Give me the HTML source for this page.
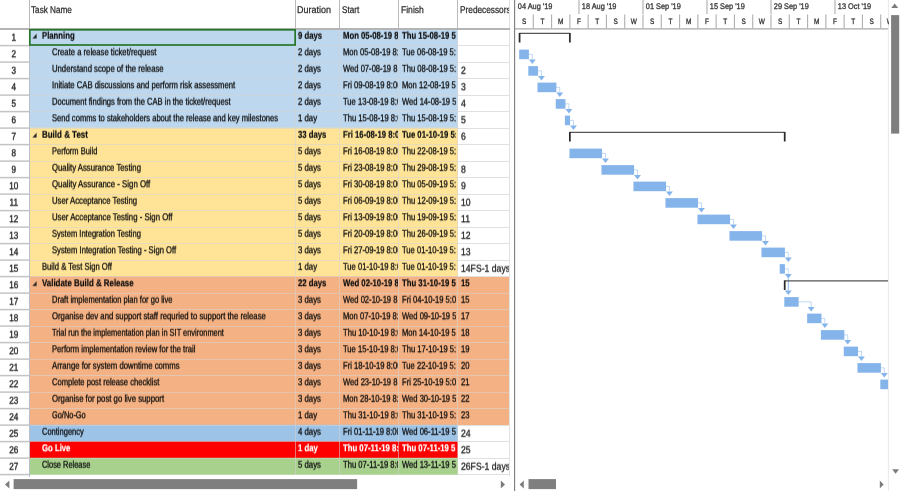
<!DOCTYPE html>
<html lang="en">
<head>
<meta charset="utf-8">
<title>Release Plan</title>
<style>
html,body{margin:0;padding:0;background:#fff;}
body{text-rendering:geometricPrecision;width:900px;height:491px;overflow:hidden;position:relative;font-family:"Liberation Sans",sans-serif;}
#app{position:absolute;left:0;top:0;width:900px;height:491px;overflow:hidden;background:#fff;}
.abs{position:absolute;}
.cell{position:absolute;overflow:hidden;white-space:nowrap;}
.t{position:absolute;white-space:pre;transform-origin:0 0;line-height:1;display:block;}
.b{font-weight:bold;}
.row{position:absolute;left:0;width:510px;height:16.5px;will-change:transform;transform-origin:0 0;}
.t{-webkit-text-stroke:0.3px currentColor;}
.t.b{-webkit-text-stroke:0.2px currentColor;}
.t.p{-webkit-text-stroke:0.3px currentColor;}
.t.h{-webkit-text-stroke:0.25px currentColor;}
.hl{position:absolute;height:1px;}
.vl{position:absolute;width:1px;}
svg{position:absolute;left:0;top:0;}

</style>
</head>
<body>
<div id="app">
<div class="hdr">
<div class="cell" style="left:29.50px;top:0.00px;width:266.00px;height:29.00px;"><div class="cell" style="left:0;top:0;width:264.40px;height:29.00px"><span class="t h" style="left:1.60px;top:6.00px;font-size:9.8px;color:#2b2b2b;transform:scaleX(0.835)">Task Name</span></div></div>
<div class="cell" style="left:295.50px;top:0.00px;width:44.00px;height:29.00px;"><div class="cell" style="left:0;top:0;width:42.40px;height:29.00px"><span class="t h" style="left:1.60px;top:6.00px;font-size:9.8px;color:#2b2b2b;transform:scaleX(0.920)">Duration</span></div></div>
<div class="cell" style="left:339.50px;top:0.00px;width:59.00px;height:29.00px;"><div class="cell" style="left:0;top:0;width:57.40px;height:29.00px"><span class="t h" style="left:2.20px;top:6.00px;font-size:9.8px;color:#2b2b2b;transform:scaleX(0.835)">Start</span></div></div>
<div class="cell" style="left:398.50px;top:0.00px;width:59.00px;height:29.00px;"><div class="cell" style="left:0;top:0;width:57.40px;height:29.00px"><span class="t h" style="left:2.30px;top:6.00px;font-size:9.8px;color:#2b2b2b;transform:scaleX(0.873)">Finish</span></div></div>
<div class="cell" style="left:457.50px;top:0.00px;width:52.00px;height:29.00px;"><div class="cell" style="left:0;top:0;width:52.00px;height:29.00px"><span class="t h" style="left:2.20px;top:6.00px;font-size:9.8px;color:#2b2b2b;transform:scaleX(0.845)">Predecessors</span></div></div>
</div>
<div class="row" style="top:28px;transform:translateY(0.75px) scale(0.9999)">
<div class="cell" style="left:0.00px;top:0.00px;width:29.50px;height:16.50px;"><div class="cell" style="left:0;top:0;width:27.90px;height:16.50px"><span class="t" style="left:0px;top:5.37px;width:34.6px;text-align:center;font-size:10.2px;color:#262626;-webkit-text-stroke:0.4px #262626;transform:scaleX(0.80)">1</span></div></div>
<div class="cell" style="left:29.50px;top:0.00px;width:266.00px;height:16.50px;background:#bdd7ee;"><div class="cell" style="left:0;top:0;width:264.40px;height:16.50px"><svg width="12" height="17" style="left:2.2px;top:0"><path d="M0.4 9.8 L4.6 9.8 L4.6 5.0 Z" fill="#262626"/></svg><span class="t b" style="left:12.80px;top:2.82px;font-size:9.9px;color:#0c0c0c;transform:scaleX(0.784)">Planning</span></div></div>
<div class="cell" style="left:295.50px;top:0.00px;width:44.00px;height:16.50px;background:#bdd7ee;"><div class="cell" style="left:0;top:0;width:42.40px;height:16.50px"><span class="t b" style="left:2.60px;top:2.82px;font-size:9.9px;color:#0c0c0c;transform:scaleX(0.784)">9 days</span></div></div>
<div class="cell" style="left:339.50px;top:0.00px;width:59.00px;height:16.50px;background:#bdd7ee;"><div class="cell" style="left:0;top:0;width:58.00px;height:16.50px"><span class="t b" style="left:3.00px;top:2.82px;font-size:9.9px;color:#0c0c0c;transform:scaleX(0.784)">Mon 05-08-19 8:00 AM</span></div></div>
<div class="cell" style="left:398.50px;top:0.00px;width:59.00px;height:16.50px;background:#bdd7ee;"><div class="cell" style="left:0;top:0;width:57.70px;height:16.50px"><span class="t b" style="left:3.20px;top:2.82px;font-size:9.9px;color:#0c0c0c;transform:scaleX(0.784)">Thu 15-08-19 5:00 PM</span></div></div>
<div class="cell" style="left:457.50px;top:0.00px;width:52.00px;height:16.50px;"><div class="cell" style="left:0;top:0;width:51.70px;height:16.50px"><span class="t p" style="left:3.70px;top:5.48px;font-size:10.3px;color:#1e1e1e;transform:scaleX(0.840)"></span></div></div>
</div>
<div class="row" style="top:45px;transform:translateY(0.25px) scale(0.9999)">
<div class="cell" style="left:0.00px;top:0.00px;width:29.50px;height:16.50px;"><div class="cell" style="left:0;top:0;width:27.90px;height:16.50px"><span class="t" style="left:0px;top:5.37px;width:34.6px;text-align:center;font-size:10.2px;color:#262626;-webkit-text-stroke:0.4px #262626;transform:scaleX(0.80)">2</span></div></div>
<div class="cell" style="left:29.50px;top:0.00px;width:266.00px;height:16.50px;background:#bdd7ee;"><div class="cell" style="left:0;top:0;width:264.40px;height:16.50px"><span class="t" style="left:22.50px;top:2.82px;font-size:9.9px;color:#0c0c0c;transform:scaleX(0.777)">Create a release ticket/request</span></div></div>
<div class="cell" style="left:295.50px;top:0.00px;width:44.00px;height:16.50px;background:#bdd7ee;"><div class="cell" style="left:0;top:0;width:42.40px;height:16.50px"><span class="t" style="left:2.60px;top:2.82px;font-size:9.9px;color:#0c0c0c;transform:scaleX(0.790)">2 days</span></div></div>
<div class="cell" style="left:339.50px;top:0.00px;width:59.00px;height:16.50px;background:#bdd7ee;"><div class="cell" style="left:0;top:0;width:58.00px;height:16.50px"><span class="t" style="left:3.00px;top:2.82px;font-size:9.9px;color:#0c0c0c;transform:scaleX(0.771)">Mon 05-08-19 8:00 AM</span></div></div>
<div class="cell" style="left:398.50px;top:0.00px;width:59.00px;height:16.50px;background:#bdd7ee;"><div class="cell" style="left:0;top:0;width:57.70px;height:16.50px"><span class="t" style="left:3.20px;top:2.82px;font-size:9.9px;color:#0c0c0c;transform:scaleX(0.771)">Tue 06-08-19 5:00 PM</span></div></div>
<div class="cell" style="left:457.50px;top:0.00px;width:52.00px;height:16.50px;"><div class="cell" style="left:0;top:0;width:51.70px;height:16.50px"><span class="t p" style="left:3.70px;top:5.48px;font-size:10.3px;color:#1e1e1e;transform:scaleX(0.840)"></span></div></div>
</div>
<div class="row" style="top:61px;transform:translateY(0.75px) scale(0.9999)">
<div class="cell" style="left:0.00px;top:0.00px;width:29.50px;height:16.50px;"><div class="cell" style="left:0;top:0;width:27.90px;height:16.50px"><span class="t" style="left:0px;top:5.37px;width:34.6px;text-align:center;font-size:10.2px;color:#262626;-webkit-text-stroke:0.4px #262626;transform:scaleX(0.80)">3</span></div></div>
<div class="cell" style="left:29.50px;top:0.00px;width:266.00px;height:16.50px;background:#bdd7ee;"><div class="cell" style="left:0;top:0;width:264.40px;height:16.50px"><span class="t" style="left:22.50px;top:2.82px;font-size:9.9px;color:#0c0c0c;transform:scaleX(0.782)">Understand scope of the release</span></div></div>
<div class="cell" style="left:295.50px;top:0.00px;width:44.00px;height:16.50px;background:#bdd7ee;"><div class="cell" style="left:0;top:0;width:42.40px;height:16.50px"><span class="t" style="left:2.60px;top:2.82px;font-size:9.9px;color:#0c0c0c;transform:scaleX(0.790)">2 days</span></div></div>
<div class="cell" style="left:339.50px;top:0.00px;width:59.00px;height:16.50px;background:#bdd7ee;"><div class="cell" style="left:0;top:0;width:58.00px;height:16.50px"><span class="t" style="left:3.00px;top:2.82px;font-size:9.9px;color:#0c0c0c;transform:scaleX(0.771)">Wed 07-08-19 8:00 AM</span></div></div>
<div class="cell" style="left:398.50px;top:0.00px;width:59.00px;height:16.50px;background:#bdd7ee;"><div class="cell" style="left:0;top:0;width:57.70px;height:16.50px"><span class="t" style="left:3.20px;top:2.82px;font-size:9.9px;color:#0c0c0c;transform:scaleX(0.771)">Thu 08-08-19 5:00 PM</span></div></div>
<div class="cell" style="left:457.50px;top:0.00px;width:52.00px;height:16.50px;"><div class="cell" style="left:0;top:0;width:51.70px;height:16.50px"><span class="t p" style="left:3.70px;top:5.48px;font-size:10.3px;color:#1e1e1e;transform:scaleX(0.840)">2</span></div></div>
</div>
<div class="row" style="top:78px;transform:translateY(0.25px) scale(0.9999)">
<div class="cell" style="left:0.00px;top:0.00px;width:29.50px;height:16.50px;"><div class="cell" style="left:0;top:0;width:27.90px;height:16.50px"><span class="t" style="left:0px;top:5.37px;width:34.6px;text-align:center;font-size:10.2px;color:#262626;-webkit-text-stroke:0.4px #262626;transform:scaleX(0.80)">4</span></div></div>
<div class="cell" style="left:29.50px;top:0.00px;width:266.00px;height:16.50px;background:#bdd7ee;"><div class="cell" style="left:0;top:0;width:264.40px;height:16.50px"><span class="t" style="left:22.50px;top:2.82px;font-size:9.9px;color:#0c0c0c;transform:scaleX(0.778)">Initiate CAB discussions and perform risk assessment</span></div></div>
<div class="cell" style="left:295.50px;top:0.00px;width:44.00px;height:16.50px;background:#bdd7ee;"><div class="cell" style="left:0;top:0;width:42.40px;height:16.50px"><span class="t" style="left:2.60px;top:2.82px;font-size:9.9px;color:#0c0c0c;transform:scaleX(0.790)">2 days</span></div></div>
<div class="cell" style="left:339.50px;top:0.00px;width:59.00px;height:16.50px;background:#bdd7ee;"><div class="cell" style="left:0;top:0;width:58.00px;height:16.50px"><span class="t" style="left:3.00px;top:2.82px;font-size:9.9px;color:#0c0c0c;transform:scaleX(0.771)">Fri 09-08-19 8:00 AM</span></div></div>
<div class="cell" style="left:398.50px;top:0.00px;width:59.00px;height:16.50px;background:#bdd7ee;"><div class="cell" style="left:0;top:0;width:57.70px;height:16.50px"><span class="t" style="left:3.20px;top:2.82px;font-size:9.9px;color:#0c0c0c;transform:scaleX(0.771)">Mon 12-08-19 5:00 PM</span></div></div>
<div class="cell" style="left:457.50px;top:0.00px;width:52.00px;height:16.50px;"><div class="cell" style="left:0;top:0;width:51.70px;height:16.50px"><span class="t p" style="left:3.70px;top:5.48px;font-size:10.3px;color:#1e1e1e;transform:scaleX(0.840)">3</span></div></div>
</div>
<div class="row" style="top:94px;transform:translateY(0.75px) scale(0.9999)">
<div class="cell" style="left:0.00px;top:0.00px;width:29.50px;height:16.50px;"><div class="cell" style="left:0;top:0;width:27.90px;height:16.50px"><span class="t" style="left:0px;top:5.37px;width:34.6px;text-align:center;font-size:10.2px;color:#262626;-webkit-text-stroke:0.4px #262626;transform:scaleX(0.80)">5</span></div></div>
<div class="cell" style="left:29.50px;top:0.00px;width:266.00px;height:16.50px;background:#bdd7ee;"><div class="cell" style="left:0;top:0;width:264.40px;height:16.50px"><span class="t" style="left:22.50px;top:2.82px;font-size:9.9px;color:#0c0c0c;transform:scaleX(0.769)">Document findings from the CAB in the ticket/request</span></div></div>
<div class="cell" style="left:295.50px;top:0.00px;width:44.00px;height:16.50px;background:#bdd7ee;"><div class="cell" style="left:0;top:0;width:42.40px;height:16.50px"><span class="t" style="left:2.60px;top:2.82px;font-size:9.9px;color:#0c0c0c;transform:scaleX(0.790)">2 days</span></div></div>
<div class="cell" style="left:339.50px;top:0.00px;width:59.00px;height:16.50px;background:#bdd7ee;"><div class="cell" style="left:0;top:0;width:58.00px;height:16.50px"><span class="t" style="left:3.00px;top:2.82px;font-size:9.9px;color:#0c0c0c;transform:scaleX(0.771)">Tue 13-08-19 8:00 AM</span></div></div>
<div class="cell" style="left:398.50px;top:0.00px;width:59.00px;height:16.50px;background:#bdd7ee;"><div class="cell" style="left:0;top:0;width:57.70px;height:16.50px"><span class="t" style="left:3.20px;top:2.82px;font-size:9.9px;color:#0c0c0c;transform:scaleX(0.771)">Wed 14-08-19 5:00 PM</span></div></div>
<div class="cell" style="left:457.50px;top:0.00px;width:52.00px;height:16.50px;"><div class="cell" style="left:0;top:0;width:51.70px;height:16.50px"><span class="t p" style="left:3.70px;top:5.48px;font-size:10.3px;color:#1e1e1e;transform:scaleX(0.840)">4</span></div></div>
</div>
<div class="row" style="top:111px;transform:translateY(0.25px) scale(0.9999)">
<div class="cell" style="left:0.00px;top:0.00px;width:29.50px;height:16.50px;"><div class="cell" style="left:0;top:0;width:27.90px;height:16.50px"><span class="t" style="left:0px;top:5.37px;width:34.6px;text-align:center;font-size:10.2px;color:#262626;-webkit-text-stroke:0.4px #262626;transform:scaleX(0.80)">6</span></div></div>
<div class="cell" style="left:29.50px;top:0.00px;width:266.00px;height:16.50px;background:#bdd7ee;"><div class="cell" style="left:0;top:0;width:264.40px;height:16.50px"><span class="t" style="left:22.50px;top:2.82px;font-size:9.9px;color:#0c0c0c;transform:scaleX(0.770)">Send comms to stakeholders about the release and key milestones</span></div></div>
<div class="cell" style="left:295.50px;top:0.00px;width:44.00px;height:16.50px;background:#bdd7ee;"><div class="cell" style="left:0;top:0;width:42.40px;height:16.50px"><span class="t" style="left:2.60px;top:2.82px;font-size:9.9px;color:#0c0c0c;transform:scaleX(0.790)">1 day</span></div></div>
<div class="cell" style="left:339.50px;top:0.00px;width:59.00px;height:16.50px;background:#bdd7ee;"><div class="cell" style="left:0;top:0;width:58.00px;height:16.50px"><span class="t" style="left:3.00px;top:2.82px;font-size:9.9px;color:#0c0c0c;transform:scaleX(0.771)">Thu 15-08-19 8:00 AM</span></div></div>
<div class="cell" style="left:398.50px;top:0.00px;width:59.00px;height:16.50px;background:#bdd7ee;"><div class="cell" style="left:0;top:0;width:57.70px;height:16.50px"><span class="t" style="left:3.20px;top:2.82px;font-size:9.9px;color:#0c0c0c;transform:scaleX(0.771)">Thu 15-08-19 5:00 PM</span></div></div>
<div class="cell" style="left:457.50px;top:0.00px;width:52.00px;height:16.50px;"><div class="cell" style="left:0;top:0;width:51.70px;height:16.50px"><span class="t p" style="left:3.70px;top:5.48px;font-size:10.3px;color:#1e1e1e;transform:scaleX(0.840)">5</span></div></div>
</div>
<div class="row" style="top:127px;transform:translateY(0.75px) scale(0.9999)">
<div class="cell" style="left:0.00px;top:0.00px;width:29.50px;height:16.50px;"><div class="cell" style="left:0;top:0;width:27.90px;height:16.50px"><span class="t" style="left:0px;top:5.37px;width:34.6px;text-align:center;font-size:10.2px;color:#262626;-webkit-text-stroke:0.4px #262626;transform:scaleX(0.80)">7</span></div></div>
<div class="cell" style="left:29.50px;top:0.00px;width:266.00px;height:16.50px;background:#ffe498;"><div class="cell" style="left:0;top:0;width:264.40px;height:16.50px"><svg width="12" height="17" style="left:2.2px;top:0"><path d="M0.4 9.8 L4.6 9.8 L4.6 5.0 Z" fill="#262626"/></svg><span class="t b" style="left:12.80px;top:2.82px;font-size:9.9px;color:#0c0c0c;transform:scaleX(0.807)">Build &amp; Test</span></div></div>
<div class="cell" style="left:295.50px;top:0.00px;width:44.00px;height:16.50px;background:#ffe498;"><div class="cell" style="left:0;top:0;width:42.40px;height:16.50px"><span class="t b" style="left:2.60px;top:2.82px;font-size:9.9px;color:#0c0c0c;transform:scaleX(0.784)">33 days</span></div></div>
<div class="cell" style="left:339.50px;top:0.00px;width:59.00px;height:16.50px;background:#ffe498;"><div class="cell" style="left:0;top:0;width:58.00px;height:16.50px"><span class="t b" style="left:3.00px;top:2.82px;font-size:9.9px;color:#0c0c0c;transform:scaleX(0.784)">Fri 16-08-19 8:00 AM</span></div></div>
<div class="cell" style="left:398.50px;top:0.00px;width:59.00px;height:16.50px;background:#ffe498;"><div class="cell" style="left:0;top:0;width:57.70px;height:16.50px"><span class="t b" style="left:3.20px;top:2.82px;font-size:9.9px;color:#0c0c0c;transform:scaleX(0.784)">Tue 01-10-19 5:00 PM</span></div></div>
<div class="cell" style="left:457.50px;top:0.00px;width:52.00px;height:16.50px;"><div class="cell" style="left:0;top:0;width:51.70px;height:16.50px"><span class="t p" style="left:3.70px;top:5.48px;font-size:10.3px;color:#1e1e1e;transform:scaleX(0.840)">6</span></div></div>
</div>
<div class="row" style="top:144px;transform:translateY(0.25px) scale(0.9999)">
<div class="cell" style="left:0.00px;top:0.00px;width:29.50px;height:16.50px;"><div class="cell" style="left:0;top:0;width:27.90px;height:16.50px"><span class="t" style="left:0px;top:5.37px;width:34.6px;text-align:center;font-size:10.2px;color:#262626;-webkit-text-stroke:0.4px #262626;transform:scaleX(0.80)">8</span></div></div>
<div class="cell" style="left:29.50px;top:0.00px;width:266.00px;height:16.50px;background:#ffe498;"><div class="cell" style="left:0;top:0;width:264.40px;height:16.50px"><span class="t" style="left:22.50px;top:2.82px;font-size:9.9px;color:#0c0c0c;transform:scaleX(0.757)">Perform Build</span></div></div>
<div class="cell" style="left:295.50px;top:0.00px;width:44.00px;height:16.50px;background:#ffe498;"><div class="cell" style="left:0;top:0;width:42.40px;height:16.50px"><span class="t" style="left:2.60px;top:2.82px;font-size:9.9px;color:#0c0c0c;transform:scaleX(0.790)">5 days</span></div></div>
<div class="cell" style="left:339.50px;top:0.00px;width:59.00px;height:16.50px;background:#ffe498;"><div class="cell" style="left:0;top:0;width:58.00px;height:16.50px"><span class="t" style="left:3.00px;top:2.82px;font-size:9.9px;color:#0c0c0c;transform:scaleX(0.771)">Fri 16-08-19 8:00 AM</span></div></div>
<div class="cell" style="left:398.50px;top:0.00px;width:59.00px;height:16.50px;background:#ffe498;"><div class="cell" style="left:0;top:0;width:57.70px;height:16.50px"><span class="t" style="left:3.20px;top:2.82px;font-size:9.9px;color:#0c0c0c;transform:scaleX(0.771)">Thu 22-08-19 5:00 PM</span></div></div>
<div class="cell" style="left:457.50px;top:0.00px;width:52.00px;height:16.50px;"><div class="cell" style="left:0;top:0;width:51.70px;height:16.50px"><span class="t p" style="left:3.70px;top:5.48px;font-size:10.3px;color:#1e1e1e;transform:scaleX(0.840)"></span></div></div>
</div>
<div class="row" style="top:160px;transform:translateY(0.75px) scale(0.9999)">
<div class="cell" style="left:0.00px;top:0.00px;width:29.50px;height:16.50px;"><div class="cell" style="left:0;top:0;width:27.90px;height:16.50px"><span class="t" style="left:0px;top:5.37px;width:34.6px;text-align:center;font-size:10.2px;color:#262626;-webkit-text-stroke:0.4px #262626;transform:scaleX(0.80)">9</span></div></div>
<div class="cell" style="left:29.50px;top:0.00px;width:266.00px;height:16.50px;background:#ffe498;"><div class="cell" style="left:0;top:0;width:264.40px;height:16.50px"><span class="t" style="left:22.50px;top:2.82px;font-size:9.9px;color:#0c0c0c;transform:scaleX(0.784)">Quality Assurance Testing</span></div></div>
<div class="cell" style="left:295.50px;top:0.00px;width:44.00px;height:16.50px;background:#ffe498;"><div class="cell" style="left:0;top:0;width:42.40px;height:16.50px"><span class="t" style="left:2.60px;top:2.82px;font-size:9.9px;color:#0c0c0c;transform:scaleX(0.790)">5 days</span></div></div>
<div class="cell" style="left:339.50px;top:0.00px;width:59.00px;height:16.50px;background:#ffe498;"><div class="cell" style="left:0;top:0;width:58.00px;height:16.50px"><span class="t" style="left:3.00px;top:2.82px;font-size:9.9px;color:#0c0c0c;transform:scaleX(0.771)">Fri 23-08-19 8:00 AM</span></div></div>
<div class="cell" style="left:398.50px;top:0.00px;width:59.00px;height:16.50px;background:#ffe498;"><div class="cell" style="left:0;top:0;width:57.70px;height:16.50px"><span class="t" style="left:3.20px;top:2.82px;font-size:9.9px;color:#0c0c0c;transform:scaleX(0.771)">Thu 29-08-19 5:00 PM</span></div></div>
<div class="cell" style="left:457.50px;top:0.00px;width:52.00px;height:16.50px;"><div class="cell" style="left:0;top:0;width:51.70px;height:16.50px"><span class="t p" style="left:3.70px;top:5.48px;font-size:10.3px;color:#1e1e1e;transform:scaleX(0.840)">8</span></div></div>
</div>
<div class="row" style="top:177px;transform:translateY(0.25px) scale(0.9999)">
<div class="cell" style="left:0.00px;top:0.00px;width:29.50px;height:16.50px;"><div class="cell" style="left:0;top:0;width:27.90px;height:16.50px"><span class="t" style="left:0px;top:5.37px;width:34.6px;text-align:center;font-size:10.2px;color:#262626;-webkit-text-stroke:0.4px #262626;transform:scaleX(0.80)">10</span></div></div>
<div class="cell" style="left:29.50px;top:0.00px;width:266.00px;height:16.50px;background:#ffe498;"><div class="cell" style="left:0;top:0;width:264.40px;height:16.50px"><span class="t" style="left:22.50px;top:2.82px;font-size:9.9px;color:#0c0c0c;transform:scaleX(0.793)">Quality Assurance - Sign Off</span></div></div>
<div class="cell" style="left:295.50px;top:0.00px;width:44.00px;height:16.50px;background:#ffe498;"><div class="cell" style="left:0;top:0;width:42.40px;height:16.50px"><span class="t" style="left:2.60px;top:2.82px;font-size:9.9px;color:#0c0c0c;transform:scaleX(0.790)">5 days</span></div></div>
<div class="cell" style="left:339.50px;top:0.00px;width:59.00px;height:16.50px;background:#ffe498;"><div class="cell" style="left:0;top:0;width:58.00px;height:16.50px"><span class="t" style="left:3.00px;top:2.82px;font-size:9.9px;color:#0c0c0c;transform:scaleX(0.771)">Fri 30-08-19 8:00 AM</span></div></div>
<div class="cell" style="left:398.50px;top:0.00px;width:59.00px;height:16.50px;background:#ffe498;"><div class="cell" style="left:0;top:0;width:57.70px;height:16.50px"><span class="t" style="left:3.20px;top:2.82px;font-size:9.9px;color:#0c0c0c;transform:scaleX(0.771)">Thu 05-09-19 5:00 PM</span></div></div>
<div class="cell" style="left:457.50px;top:0.00px;width:52.00px;height:16.50px;"><div class="cell" style="left:0;top:0;width:51.70px;height:16.50px"><span class="t p" style="left:3.70px;top:5.48px;font-size:10.3px;color:#1e1e1e;transform:scaleX(0.840)">9</span></div></div>
</div>
<div class="row" style="top:193px;transform:translateY(0.75px) scale(0.9999)">
<div class="cell" style="left:0.00px;top:0.00px;width:29.50px;height:16.50px;"><div class="cell" style="left:0;top:0;width:27.90px;height:16.50px"><span class="t" style="left:0px;top:5.37px;width:34.6px;text-align:center;font-size:10.2px;color:#262626;-webkit-text-stroke:0.4px #262626;transform:scaleX(0.80)">11</span></div></div>
<div class="cell" style="left:29.50px;top:0.00px;width:266.00px;height:16.50px;background:#ffe498;"><div class="cell" style="left:0;top:0;width:264.40px;height:16.50px"><span class="t" style="left:22.50px;top:2.82px;font-size:9.9px;color:#0c0c0c;transform:scaleX(0.784)">User Acceptance Testing</span></div></div>
<div class="cell" style="left:295.50px;top:0.00px;width:44.00px;height:16.50px;background:#ffe498;"><div class="cell" style="left:0;top:0;width:42.40px;height:16.50px"><span class="t" style="left:2.60px;top:2.82px;font-size:9.9px;color:#0c0c0c;transform:scaleX(0.790)">5 days</span></div></div>
<div class="cell" style="left:339.50px;top:0.00px;width:59.00px;height:16.50px;background:#ffe498;"><div class="cell" style="left:0;top:0;width:58.00px;height:16.50px"><span class="t" style="left:3.00px;top:2.82px;font-size:9.9px;color:#0c0c0c;transform:scaleX(0.771)">Fri 06-09-19 8:00 AM</span></div></div>
<div class="cell" style="left:398.50px;top:0.00px;width:59.00px;height:16.50px;background:#ffe498;"><div class="cell" style="left:0;top:0;width:57.70px;height:16.50px"><span class="t" style="left:3.20px;top:2.82px;font-size:9.9px;color:#0c0c0c;transform:scaleX(0.771)">Thu 12-09-19 5:00 PM</span></div></div>
<div class="cell" style="left:457.50px;top:0.00px;width:52.00px;height:16.50px;"><div class="cell" style="left:0;top:0;width:51.70px;height:16.50px"><span class="t p" style="left:3.70px;top:5.48px;font-size:10.3px;color:#1e1e1e;transform:scaleX(0.840)">10</span></div></div>
</div>
<div class="row" style="top:210px;transform:translateY(0.25px) scale(0.9999)">
<div class="cell" style="left:0.00px;top:0.00px;width:29.50px;height:16.50px;"><div class="cell" style="left:0;top:0;width:27.90px;height:16.50px"><span class="t" style="left:0px;top:5.37px;width:34.6px;text-align:center;font-size:10.2px;color:#262626;-webkit-text-stroke:0.4px #262626;transform:scaleX(0.80)">12</span></div></div>
<div class="cell" style="left:29.50px;top:0.00px;width:266.00px;height:16.50px;background:#ffe498;"><div class="cell" style="left:0;top:0;width:264.40px;height:16.50px"><span class="t" style="left:22.50px;top:2.82px;font-size:9.9px;color:#0c0c0c;transform:scaleX(0.788)">User Acceptance Testing - Sign Off</span></div></div>
<div class="cell" style="left:295.50px;top:0.00px;width:44.00px;height:16.50px;background:#ffe498;"><div class="cell" style="left:0;top:0;width:42.40px;height:16.50px"><span class="t" style="left:2.60px;top:2.82px;font-size:9.9px;color:#0c0c0c;transform:scaleX(0.790)">5 days</span></div></div>
<div class="cell" style="left:339.50px;top:0.00px;width:59.00px;height:16.50px;background:#ffe498;"><div class="cell" style="left:0;top:0;width:58.00px;height:16.50px"><span class="t" style="left:3.00px;top:2.82px;font-size:9.9px;color:#0c0c0c;transform:scaleX(0.771)">Fri 13-09-19 8:00 AM</span></div></div>
<div class="cell" style="left:398.50px;top:0.00px;width:59.00px;height:16.50px;background:#ffe498;"><div class="cell" style="left:0;top:0;width:57.70px;height:16.50px"><span class="t" style="left:3.20px;top:2.82px;font-size:9.9px;color:#0c0c0c;transform:scaleX(0.771)">Thu 19-09-19 5:00 PM</span></div></div>
<div class="cell" style="left:457.50px;top:0.00px;width:52.00px;height:16.50px;"><div class="cell" style="left:0;top:0;width:51.70px;height:16.50px"><span class="t p" style="left:3.70px;top:5.48px;font-size:10.3px;color:#1e1e1e;transform:scaleX(0.840)">11</span></div></div>
</div>
<div class="row" style="top:226px;transform:translateY(0.75px) scale(0.9999)">
<div class="cell" style="left:0.00px;top:0.00px;width:29.50px;height:16.50px;"><div class="cell" style="left:0;top:0;width:27.90px;height:16.50px"><span class="t" style="left:0px;top:5.37px;width:34.6px;text-align:center;font-size:10.2px;color:#262626;-webkit-text-stroke:0.4px #262626;transform:scaleX(0.80)">13</span></div></div>
<div class="cell" style="left:29.50px;top:0.00px;width:266.00px;height:16.50px;background:#ffe498;"><div class="cell" style="left:0;top:0;width:264.40px;height:16.50px"><span class="t" style="left:22.50px;top:2.82px;font-size:9.9px;color:#0c0c0c;transform:scaleX(0.765)">System Integration Testing</span></div></div>
<div class="cell" style="left:295.50px;top:0.00px;width:44.00px;height:16.50px;background:#ffe498;"><div class="cell" style="left:0;top:0;width:42.40px;height:16.50px"><span class="t" style="left:2.60px;top:2.82px;font-size:9.9px;color:#0c0c0c;transform:scaleX(0.790)">5 days</span></div></div>
<div class="cell" style="left:339.50px;top:0.00px;width:59.00px;height:16.50px;background:#ffe498;"><div class="cell" style="left:0;top:0;width:58.00px;height:16.50px"><span class="t" style="left:3.00px;top:2.82px;font-size:9.9px;color:#0c0c0c;transform:scaleX(0.771)">Fri 20-09-19 8:00 AM</span></div></div>
<div class="cell" style="left:398.50px;top:0.00px;width:59.00px;height:16.50px;background:#ffe498;"><div class="cell" style="left:0;top:0;width:57.70px;height:16.50px"><span class="t" style="left:3.20px;top:2.82px;font-size:9.9px;color:#0c0c0c;transform:scaleX(0.771)">Thu 26-09-19 5:00 PM</span></div></div>
<div class="cell" style="left:457.50px;top:0.00px;width:52.00px;height:16.50px;"><div class="cell" style="left:0;top:0;width:51.70px;height:16.50px"><span class="t p" style="left:3.70px;top:5.48px;font-size:10.3px;color:#1e1e1e;transform:scaleX(0.840)">12</span></div></div>
</div>
<div class="row" style="top:243px;transform:translateY(0.25px) scale(0.9999)">
<div class="cell" style="left:0.00px;top:0.00px;width:29.50px;height:16.50px;"><div class="cell" style="left:0;top:0;width:27.90px;height:16.50px"><span class="t" style="left:0px;top:5.37px;width:34.6px;text-align:center;font-size:10.2px;color:#262626;-webkit-text-stroke:0.4px #262626;transform:scaleX(0.80)">14</span></div></div>
<div class="cell" style="left:29.50px;top:0.00px;width:266.00px;height:16.50px;background:#ffe498;"><div class="cell" style="left:0;top:0;width:264.40px;height:16.50px"><span class="t" style="left:22.50px;top:2.82px;font-size:9.9px;color:#0c0c0c;transform:scaleX(0.773)">System Integration Testing - Sign Off</span></div></div>
<div class="cell" style="left:295.50px;top:0.00px;width:44.00px;height:16.50px;background:#ffe498;"><div class="cell" style="left:0;top:0;width:42.40px;height:16.50px"><span class="t" style="left:2.60px;top:2.82px;font-size:9.9px;color:#0c0c0c;transform:scaleX(0.790)">3 days</span></div></div>
<div class="cell" style="left:339.50px;top:0.00px;width:59.00px;height:16.50px;background:#ffe498;"><div class="cell" style="left:0;top:0;width:58.00px;height:16.50px"><span class="t" style="left:3.00px;top:2.82px;font-size:9.9px;color:#0c0c0c;transform:scaleX(0.771)">Fri 27-09-19 8:00 AM</span></div></div>
<div class="cell" style="left:398.50px;top:0.00px;width:59.00px;height:16.50px;background:#ffe498;"><div class="cell" style="left:0;top:0;width:57.70px;height:16.50px"><span class="t" style="left:3.20px;top:2.82px;font-size:9.9px;color:#0c0c0c;transform:scaleX(0.771)">Tue 01-10-19 5:00 PM</span></div></div>
<div class="cell" style="left:457.50px;top:0.00px;width:52.00px;height:16.50px;"><div class="cell" style="left:0;top:0;width:51.70px;height:16.50px"><span class="t p" style="left:3.70px;top:5.48px;font-size:10.3px;color:#1e1e1e;transform:scaleX(0.840)">13</span></div></div>
</div>
<div class="row" style="top:259px;transform:translateY(0.75px) scale(0.9999)">
<div class="cell" style="left:0.00px;top:0.00px;width:29.50px;height:16.50px;"><div class="cell" style="left:0;top:0;width:27.90px;height:16.50px"><span class="t" style="left:0px;top:5.37px;width:34.6px;text-align:center;font-size:10.2px;color:#262626;-webkit-text-stroke:0.4px #262626;transform:scaleX(0.80)">15</span></div></div>
<div class="cell" style="left:29.50px;top:0.00px;width:266.00px;height:16.50px;background:#ffe498;"><div class="cell" style="left:0;top:0;width:264.40px;height:16.50px"><span class="t" style="left:12.80px;top:2.82px;font-size:9.9px;color:#0c0c0c;transform:scaleX(0.775)">Build &amp; Test Sign Off</span></div></div>
<div class="cell" style="left:295.50px;top:0.00px;width:44.00px;height:16.50px;background:#ffe498;"><div class="cell" style="left:0;top:0;width:42.40px;height:16.50px"><span class="t" style="left:2.60px;top:2.82px;font-size:9.9px;color:#0c0c0c;transform:scaleX(0.790)">1 day</span></div></div>
<div class="cell" style="left:339.50px;top:0.00px;width:59.00px;height:16.50px;background:#ffe498;"><div class="cell" style="left:0;top:0;width:58.00px;height:16.50px"><span class="t" style="left:3.00px;top:2.82px;font-size:9.9px;color:#0c0c0c;transform:scaleX(0.771)">Tue 01-10-19 8:00 AM</span></div></div>
<div class="cell" style="left:398.50px;top:0.00px;width:59.00px;height:16.50px;background:#ffe498;"><div class="cell" style="left:0;top:0;width:57.70px;height:16.50px"><span class="t" style="left:3.20px;top:2.82px;font-size:9.9px;color:#0c0c0c;transform:scaleX(0.771)">Tue 01-10-19 5:00 PM</span></div></div>
<div class="cell" style="left:457.50px;top:0.00px;width:52.00px;height:16.50px;"><div class="cell" style="left:0;top:0;width:51.70px;height:16.50px"><span class="t p" style="left:3.70px;top:5.48px;font-size:10.3px;color:#1e1e1e;transform:scaleX(0.840)">14FS-1 days</span></div></div>
</div>
<div class="row" style="top:276px;transform:translateY(0.25px) scale(0.9999)">
<div class="cell" style="left:0.00px;top:0.00px;width:29.50px;height:16.50px;"><div class="cell" style="left:0;top:0;width:27.90px;height:16.50px"><span class="t" style="left:0px;top:5.37px;width:34.6px;text-align:center;font-size:10.2px;color:#262626;-webkit-text-stroke:0.4px #262626;transform:scaleX(0.80)">16</span></div></div>
<div class="cell" style="left:29.50px;top:0.00px;width:266.00px;height:16.50px;background:#f4b183;"><div class="cell" style="left:0;top:0;width:264.40px;height:16.50px"><svg width="12" height="17" style="left:2.2px;top:0"><path d="M0.4 9.8 L4.6 9.8 L4.6 5.0 Z" fill="#262626"/></svg><span class="t b" style="left:12.80px;top:2.82px;font-size:9.9px;color:#0c0c0c;transform:scaleX(0.799)">Validate Build &amp; Release</span></div></div>
<div class="cell" style="left:295.50px;top:0.00px;width:44.00px;height:16.50px;background:#f4b183;"><div class="cell" style="left:0;top:0;width:42.40px;height:16.50px"><span class="t b" style="left:2.60px;top:2.82px;font-size:9.9px;color:#0c0c0c;transform:scaleX(0.784)">22 days</span></div></div>
<div class="cell" style="left:339.50px;top:0.00px;width:59.00px;height:16.50px;background:#f4b183;"><div class="cell" style="left:0;top:0;width:58.00px;height:16.50px"><span class="t b" style="left:3.00px;top:2.82px;font-size:9.9px;color:#0c0c0c;transform:scaleX(0.784)">Wed 02-10-19 8:00 AM</span></div></div>
<div class="cell" style="left:398.50px;top:0.00px;width:59.00px;height:16.50px;background:#f4b183;"><div class="cell" style="left:0;top:0;width:57.70px;height:16.50px"><span class="t b" style="left:3.20px;top:2.82px;font-size:9.9px;color:#0c0c0c;transform:scaleX(0.784)">Thu 31-10-19 5:00 PM</span></div></div>
<div class="cell" style="left:457.50px;top:0.00px;width:52.00px;height:16.50px;background:#f4b183;"><div class="cell" style="left:0;top:0;width:50.40px;height:16.50px"><span class="t b" style="left:3.20px;top:2.82px;font-size:9.9px;color:#0c0c0c;transform:scaleX(0.784)">15</span></div></div>
</div>
<div class="row" style="top:292px;transform:translateY(0.75px) scale(0.9999)">
<div class="cell" style="left:0.00px;top:0.00px;width:29.50px;height:16.50px;"><div class="cell" style="left:0;top:0;width:27.90px;height:16.50px"><span class="t" style="left:0px;top:5.37px;width:34.6px;text-align:center;font-size:10.2px;color:#262626;-webkit-text-stroke:0.4px #262626;transform:scaleX(0.80)">17</span></div></div>
<div class="cell" style="left:29.50px;top:0.00px;width:266.00px;height:16.50px;background:#f4b183;"><div class="cell" style="left:0;top:0;width:264.40px;height:16.50px"><span class="t" style="left:22.50px;top:2.82px;font-size:9.9px;color:#0c0c0c;transform:scaleX(0.762)">Draft implementation plan for go live</span></div></div>
<div class="cell" style="left:295.50px;top:0.00px;width:44.00px;height:16.50px;background:#f4b183;"><div class="cell" style="left:0;top:0;width:42.40px;height:16.50px"><span class="t" style="left:2.60px;top:2.82px;font-size:9.9px;color:#0c0c0c;transform:scaleX(0.790)">3 days</span></div></div>
<div class="cell" style="left:339.50px;top:0.00px;width:59.00px;height:16.50px;background:#f4b183;"><div class="cell" style="left:0;top:0;width:58.00px;height:16.50px"><span class="t" style="left:3.00px;top:2.82px;font-size:9.9px;color:#0c0c0c;transform:scaleX(0.771)">Wed 02-10-19 8:00 AM</span></div></div>
<div class="cell" style="left:398.50px;top:0.00px;width:59.00px;height:16.50px;background:#f4b183;"><div class="cell" style="left:0;top:0;width:57.70px;height:16.50px"><span class="t" style="left:3.20px;top:2.82px;font-size:9.9px;color:#0c0c0c;transform:scaleX(0.771)">Fri 04-10-19 5:00 PM</span></div></div>
<div class="cell" style="left:457.50px;top:0.00px;width:52.00px;height:16.50px;background:#f4b183;"><div class="cell" style="left:0;top:0;width:50.40px;height:16.50px"><span class="t" style="left:3.20px;top:2.82px;font-size:9.9px;color:#0c0c0c;transform:scaleX(0.771)">15</span></div></div>
</div>
<div class="row" style="top:309px;transform:translateY(0.25px) scale(0.9999)">
<div class="cell" style="left:0.00px;top:0.00px;width:29.50px;height:16.50px;"><div class="cell" style="left:0;top:0;width:27.90px;height:16.50px"><span class="t" style="left:0px;top:5.37px;width:34.6px;text-align:center;font-size:10.2px;color:#262626;-webkit-text-stroke:0.4px #262626;transform:scaleX(0.80)">18</span></div></div>
<div class="cell" style="left:29.50px;top:0.00px;width:266.00px;height:16.50px;background:#f4b183;"><div class="cell" style="left:0;top:0;width:264.40px;height:16.50px"><span class="t" style="left:22.50px;top:2.82px;font-size:9.9px;color:#0c0c0c;transform:scaleX(0.786)">Organise dev and support staff requried to support the release</span></div></div>
<div class="cell" style="left:295.50px;top:0.00px;width:44.00px;height:16.50px;background:#f4b183;"><div class="cell" style="left:0;top:0;width:42.40px;height:16.50px"><span class="t" style="left:2.60px;top:2.82px;font-size:9.9px;color:#0c0c0c;transform:scaleX(0.790)">3 days</span></div></div>
<div class="cell" style="left:339.50px;top:0.00px;width:59.00px;height:16.50px;background:#f4b183;"><div class="cell" style="left:0;top:0;width:58.00px;height:16.50px"><span class="t" style="left:3.00px;top:2.82px;font-size:9.9px;color:#0c0c0c;transform:scaleX(0.771)">Mon 07-10-19 8:00 AM</span></div></div>
<div class="cell" style="left:398.50px;top:0.00px;width:59.00px;height:16.50px;background:#f4b183;"><div class="cell" style="left:0;top:0;width:57.70px;height:16.50px"><span class="t" style="left:3.20px;top:2.82px;font-size:9.9px;color:#0c0c0c;transform:scaleX(0.771)">Wed 09-10-19 5:00 PM</span></div></div>
<div class="cell" style="left:457.50px;top:0.00px;width:52.00px;height:16.50px;background:#f4b183;"><div class="cell" style="left:0;top:0;width:50.40px;height:16.50px"><span class="t" style="left:3.20px;top:2.82px;font-size:9.9px;color:#0c0c0c;transform:scaleX(0.771)">17</span></div></div>
</div>
<div class="row" style="top:325px;transform:translateY(0.75px) scale(0.9999)">
<div class="cell" style="left:0.00px;top:0.00px;width:29.50px;height:16.50px;"><div class="cell" style="left:0;top:0;width:27.90px;height:16.50px"><span class="t" style="left:0px;top:5.37px;width:34.6px;text-align:center;font-size:10.2px;color:#262626;-webkit-text-stroke:0.4px #262626;transform:scaleX(0.80)">19</span></div></div>
<div class="cell" style="left:29.50px;top:0.00px;width:266.00px;height:16.50px;background:#f4b183;"><div class="cell" style="left:0;top:0;width:264.40px;height:16.50px"><span class="t" style="left:22.50px;top:2.82px;font-size:9.9px;color:#0c0c0c;transform:scaleX(0.751)">Trial run the implementation plan in SIT environment</span></div></div>
<div class="cell" style="left:295.50px;top:0.00px;width:44.00px;height:16.50px;background:#f4b183;"><div class="cell" style="left:0;top:0;width:42.40px;height:16.50px"><span class="t" style="left:2.60px;top:2.82px;font-size:9.9px;color:#0c0c0c;transform:scaleX(0.790)">3 days</span></div></div>
<div class="cell" style="left:339.50px;top:0.00px;width:59.00px;height:16.50px;background:#f4b183;"><div class="cell" style="left:0;top:0;width:58.00px;height:16.50px"><span class="t" style="left:3.00px;top:2.82px;font-size:9.9px;color:#0c0c0c;transform:scaleX(0.771)">Thu 10-10-19 8:00 AM</span></div></div>
<div class="cell" style="left:398.50px;top:0.00px;width:59.00px;height:16.50px;background:#f4b183;"><div class="cell" style="left:0;top:0;width:57.70px;height:16.50px"><span class="t" style="left:3.20px;top:2.82px;font-size:9.9px;color:#0c0c0c;transform:scaleX(0.771)">Mon 14-10-19 5:00 PM</span></div></div>
<div class="cell" style="left:457.50px;top:0.00px;width:52.00px;height:16.50px;background:#f4b183;"><div class="cell" style="left:0;top:0;width:50.40px;height:16.50px"><span class="t" style="left:3.20px;top:2.82px;font-size:9.9px;color:#0c0c0c;transform:scaleX(0.771)">18</span></div></div>
</div>
<div class="row" style="top:342px;transform:translateY(0.25px) scale(0.9999)">
<div class="cell" style="left:0.00px;top:0.00px;width:29.50px;height:16.50px;"><div class="cell" style="left:0;top:0;width:27.90px;height:16.50px"><span class="t" style="left:0px;top:5.37px;width:34.6px;text-align:center;font-size:10.2px;color:#262626;-webkit-text-stroke:0.4px #262626;transform:scaleX(0.80)">20</span></div></div>
<div class="cell" style="left:29.50px;top:0.00px;width:266.00px;height:16.50px;background:#f4b183;"><div class="cell" style="left:0;top:0;width:264.40px;height:16.50px"><span class="t" style="left:22.50px;top:2.82px;font-size:9.9px;color:#0c0c0c;transform:scaleX(0.773)">Perform implementation review for the trail</span></div></div>
<div class="cell" style="left:295.50px;top:0.00px;width:44.00px;height:16.50px;background:#f4b183;"><div class="cell" style="left:0;top:0;width:42.40px;height:16.50px"><span class="t" style="left:2.60px;top:2.82px;font-size:9.9px;color:#0c0c0c;transform:scaleX(0.790)">3 days</span></div></div>
<div class="cell" style="left:339.50px;top:0.00px;width:59.00px;height:16.50px;background:#f4b183;"><div class="cell" style="left:0;top:0;width:58.00px;height:16.50px"><span class="t" style="left:3.00px;top:2.82px;font-size:9.9px;color:#0c0c0c;transform:scaleX(0.771)">Tue 15-10-19 8:00 AM</span></div></div>
<div class="cell" style="left:398.50px;top:0.00px;width:59.00px;height:16.50px;background:#f4b183;"><div class="cell" style="left:0;top:0;width:57.70px;height:16.50px"><span class="t" style="left:3.20px;top:2.82px;font-size:9.9px;color:#0c0c0c;transform:scaleX(0.771)">Thu 17-10-19 5:00 PM</span></div></div>
<div class="cell" style="left:457.50px;top:0.00px;width:52.00px;height:16.50px;background:#f4b183;"><div class="cell" style="left:0;top:0;width:50.40px;height:16.50px"><span class="t" style="left:3.20px;top:2.82px;font-size:9.9px;color:#0c0c0c;transform:scaleX(0.771)">19</span></div></div>
</div>
<div class="row" style="top:358px;transform:translateY(0.75px) scale(0.9999)">
<div class="cell" style="left:0.00px;top:0.00px;width:29.50px;height:16.50px;"><div class="cell" style="left:0;top:0;width:27.90px;height:16.50px"><span class="t" style="left:0px;top:5.37px;width:34.6px;text-align:center;font-size:10.2px;color:#262626;-webkit-text-stroke:0.4px #262626;transform:scaleX(0.80)">21</span></div></div>
<div class="cell" style="left:29.50px;top:0.00px;width:266.00px;height:16.50px;background:#f4b183;"><div class="cell" style="left:0;top:0;width:264.40px;height:16.50px"><span class="t" style="left:22.50px;top:2.82px;font-size:9.9px;color:#0c0c0c;transform:scaleX(0.783)">Arrange for system downtime comms</span></div></div>
<div class="cell" style="left:295.50px;top:0.00px;width:44.00px;height:16.50px;background:#f4b183;"><div class="cell" style="left:0;top:0;width:42.40px;height:16.50px"><span class="t" style="left:2.60px;top:2.82px;font-size:9.9px;color:#0c0c0c;transform:scaleX(0.790)">3 days</span></div></div>
<div class="cell" style="left:339.50px;top:0.00px;width:59.00px;height:16.50px;background:#f4b183;"><div class="cell" style="left:0;top:0;width:58.00px;height:16.50px"><span class="t" style="left:3.00px;top:2.82px;font-size:9.9px;color:#0c0c0c;transform:scaleX(0.771)">Fri 18-10-19 8:00 AM</span></div></div>
<div class="cell" style="left:398.50px;top:0.00px;width:59.00px;height:16.50px;background:#f4b183;"><div class="cell" style="left:0;top:0;width:57.70px;height:16.50px"><span class="t" style="left:3.20px;top:2.82px;font-size:9.9px;color:#0c0c0c;transform:scaleX(0.771)">Tue 22-10-19 5:00 PM</span></div></div>
<div class="cell" style="left:457.50px;top:0.00px;width:52.00px;height:16.50px;background:#f4b183;"><div class="cell" style="left:0;top:0;width:50.40px;height:16.50px"><span class="t" style="left:3.20px;top:2.82px;font-size:9.9px;color:#0c0c0c;transform:scaleX(0.771)">20</span></div></div>
</div>
<div class="row" style="top:375px;transform:translateY(0.25px) scale(0.9999)">
<div class="cell" style="left:0.00px;top:0.00px;width:29.50px;height:16.50px;"><div class="cell" style="left:0;top:0;width:27.90px;height:16.50px"><span class="t" style="left:0px;top:5.37px;width:34.6px;text-align:center;font-size:10.2px;color:#262626;-webkit-text-stroke:0.4px #262626;transform:scaleX(0.80)">22</span></div></div>
<div class="cell" style="left:29.50px;top:0.00px;width:266.00px;height:16.50px;background:#f4b183;"><div class="cell" style="left:0;top:0;width:264.40px;height:16.50px"><span class="t" style="left:22.50px;top:2.82px;font-size:9.9px;color:#0c0c0c;transform:scaleX(0.770)">Complete post release checklist</span></div></div>
<div class="cell" style="left:295.50px;top:0.00px;width:44.00px;height:16.50px;background:#f4b183;"><div class="cell" style="left:0;top:0;width:42.40px;height:16.50px"><span class="t" style="left:2.60px;top:2.82px;font-size:9.9px;color:#0c0c0c;transform:scaleX(0.790)">3 days</span></div></div>
<div class="cell" style="left:339.50px;top:0.00px;width:59.00px;height:16.50px;background:#f4b183;"><div class="cell" style="left:0;top:0;width:58.00px;height:16.50px"><span class="t" style="left:3.00px;top:2.82px;font-size:9.9px;color:#0c0c0c;transform:scaleX(0.771)">Wed 23-10-19 8:00 AM</span></div></div>
<div class="cell" style="left:398.50px;top:0.00px;width:59.00px;height:16.50px;background:#f4b183;"><div class="cell" style="left:0;top:0;width:57.70px;height:16.50px"><span class="t" style="left:3.20px;top:2.82px;font-size:9.9px;color:#0c0c0c;transform:scaleX(0.771)">Fri 25-10-19 5:00 PM</span></div></div>
<div class="cell" style="left:457.50px;top:0.00px;width:52.00px;height:16.50px;background:#f4b183;"><div class="cell" style="left:0;top:0;width:50.40px;height:16.50px"><span class="t" style="left:3.20px;top:2.82px;font-size:9.9px;color:#0c0c0c;transform:scaleX(0.771)">21</span></div></div>
</div>
<div class="row" style="top:391px;transform:translateY(0.75px) scale(0.9999)">
<div class="cell" style="left:0.00px;top:0.00px;width:29.50px;height:16.50px;"><div class="cell" style="left:0;top:0;width:27.90px;height:16.50px"><span class="t" style="left:0px;top:5.37px;width:34.6px;text-align:center;font-size:10.2px;color:#262626;-webkit-text-stroke:0.4px #262626;transform:scaleX(0.80)">23</span></div></div>
<div class="cell" style="left:29.50px;top:0.00px;width:266.00px;height:16.50px;background:#f4b183;"><div class="cell" style="left:0;top:0;width:264.40px;height:16.50px"><span class="t" style="left:22.50px;top:2.82px;font-size:9.9px;color:#0c0c0c;transform:scaleX(0.785)">Organise for post go live support</span></div></div>
<div class="cell" style="left:295.50px;top:0.00px;width:44.00px;height:16.50px;background:#f4b183;"><div class="cell" style="left:0;top:0;width:42.40px;height:16.50px"><span class="t" style="left:2.60px;top:2.82px;font-size:9.9px;color:#0c0c0c;transform:scaleX(0.790)">3 days</span></div></div>
<div class="cell" style="left:339.50px;top:0.00px;width:59.00px;height:16.50px;background:#f4b183;"><div class="cell" style="left:0;top:0;width:58.00px;height:16.50px"><span class="t" style="left:3.00px;top:2.82px;font-size:9.9px;color:#0c0c0c;transform:scaleX(0.771)">Mon 28-10-19 8:00 AM</span></div></div>
<div class="cell" style="left:398.50px;top:0.00px;width:59.00px;height:16.50px;background:#f4b183;"><div class="cell" style="left:0;top:0;width:57.70px;height:16.50px"><span class="t" style="left:3.20px;top:2.82px;font-size:9.9px;color:#0c0c0c;transform:scaleX(0.771)">Wed 30-10-19 5:00 PM</span></div></div>
<div class="cell" style="left:457.50px;top:0.00px;width:52.00px;height:16.50px;background:#f4b183;"><div class="cell" style="left:0;top:0;width:50.40px;height:16.50px"><span class="t" style="left:3.20px;top:2.82px;font-size:9.9px;color:#0c0c0c;transform:scaleX(0.771)">22</span></div></div>
</div>
<div class="row" style="top:408px;transform:translateY(0.25px) scale(0.9999)">
<div class="cell" style="left:0.00px;top:0.00px;width:29.50px;height:16.50px;"><div class="cell" style="left:0;top:0;width:27.90px;height:16.50px"><span class="t" style="left:0px;top:5.37px;width:34.6px;text-align:center;font-size:10.2px;color:#262626;-webkit-text-stroke:0.4px #262626;transform:scaleX(0.80)">24</span></div></div>
<div class="cell" style="left:29.50px;top:0.00px;width:266.00px;height:16.50px;background:#f4b183;"><div class="cell" style="left:0;top:0;width:264.40px;height:16.50px"><span class="t" style="left:22.50px;top:2.82px;font-size:9.9px;color:#0c0c0c;transform:scaleX(0.749)">Go/No-Go</span></div></div>
<div class="cell" style="left:295.50px;top:0.00px;width:44.00px;height:16.50px;background:#f4b183;"><div class="cell" style="left:0;top:0;width:42.40px;height:16.50px"><span class="t" style="left:2.60px;top:2.82px;font-size:9.9px;color:#0c0c0c;transform:scaleX(0.790)">1 day</span></div></div>
<div class="cell" style="left:339.50px;top:0.00px;width:59.00px;height:16.50px;background:#f4b183;"><div class="cell" style="left:0;top:0;width:58.00px;height:16.50px"><span class="t" style="left:3.00px;top:2.82px;font-size:9.9px;color:#0c0c0c;transform:scaleX(0.771)">Thu 31-10-19 8:00 AM</span></div></div>
<div class="cell" style="left:398.50px;top:0.00px;width:59.00px;height:16.50px;background:#f4b183;"><div class="cell" style="left:0;top:0;width:57.70px;height:16.50px"><span class="t" style="left:3.20px;top:2.82px;font-size:9.9px;color:#0c0c0c;transform:scaleX(0.771)">Thu 31-10-19 5:00 PM</span></div></div>
<div class="cell" style="left:457.50px;top:0.00px;width:52.00px;height:16.50px;background:#f4b183;"><div class="cell" style="left:0;top:0;width:50.40px;height:16.50px"><span class="t" style="left:3.20px;top:2.82px;font-size:9.9px;color:#0c0c0c;transform:scaleX(0.771)">23</span></div></div>
</div>
<div class="row" style="top:424px;transform:translateY(0.75px) scale(0.9999)">
<div class="cell" style="left:0.00px;top:0.00px;width:29.50px;height:16.50px;"><div class="cell" style="left:0;top:0;width:27.90px;height:16.50px"><span class="t" style="left:0px;top:5.37px;width:34.6px;text-align:center;font-size:10.2px;color:#262626;-webkit-text-stroke:0.4px #262626;transform:scaleX(0.80)">25</span></div></div>
<div class="cell" style="left:29.50px;top:0.00px;width:266.00px;height:16.50px;background:#9dc3e6;"><div class="cell" style="left:0;top:0;width:264.40px;height:16.50px"><span class="t" style="left:12.80px;top:2.82px;font-size:9.9px;color:#0c0c0c;transform:scaleX(0.761)">Contingency</span></div></div>
<div class="cell" style="left:295.50px;top:0.00px;width:44.00px;height:16.50px;background:#9dc3e6;"><div class="cell" style="left:0;top:0;width:42.40px;height:16.50px"><span class="t" style="left:2.60px;top:2.82px;font-size:9.9px;color:#0c0c0c;transform:scaleX(0.790)">4 days</span></div></div>
<div class="cell" style="left:339.50px;top:0.00px;width:59.00px;height:16.50px;background:#9dc3e6;"><div class="cell" style="left:0;top:0;width:58.00px;height:16.50px"><span class="t" style="left:3.00px;top:2.82px;font-size:9.9px;color:#0c0c0c;transform:scaleX(0.771)">Fri 01-11-19 8:00 AM</span></div></div>
<div class="cell" style="left:398.50px;top:0.00px;width:59.00px;height:16.50px;background:#9dc3e6;"><div class="cell" style="left:0;top:0;width:57.70px;height:16.50px"><span class="t" style="left:3.20px;top:2.82px;font-size:9.9px;color:#0c0c0c;transform:scaleX(0.771)">Wed 06-11-19 5:00 PM</span></div></div>
<div class="cell" style="left:457.50px;top:0.00px;width:52.00px;height:16.50px;"><div class="cell" style="left:0;top:0;width:51.70px;height:16.50px"><span class="t p" style="left:3.70px;top:5.48px;font-size:10.3px;color:#1e1e1e;transform:scaleX(0.840)">24</span></div></div>
</div>
<div class="row" style="top:441px;transform:translateY(0.25px) scale(0.9999)">
<div class="cell" style="left:0.00px;top:0.00px;width:29.50px;height:16.50px;"><div class="cell" style="left:0;top:0;width:27.90px;height:16.50px"><span class="t" style="left:0px;top:5.37px;width:34.6px;text-align:center;font-size:10.2px;color:#262626;-webkit-text-stroke:0.4px #262626;transform:scaleX(0.80)">26</span></div></div>
<div class="cell" style="left:29.50px;top:0.00px;width:266.00px;height:16.50px;background:#ff0000;"><div class="cell" style="left:0;top:0;width:264.40px;height:16.50px"><span class="t b" style="left:12.80px;top:2.82px;font-size:9.9px;color:#ffffff;transform:scaleX(0.784)">Go Live</span></div></div>
<div class="cell" style="left:295.50px;top:0.00px;width:44.00px;height:16.50px;background:#ff0000;"><div class="cell" style="left:0;top:0;width:42.40px;height:16.50px"><span class="t b" style="left:2.60px;top:2.82px;font-size:9.9px;color:#ffffff;transform:scaleX(0.784)">1 day</span></div></div>
<div class="cell" style="left:339.50px;top:0.00px;width:59.00px;height:16.50px;background:#ff0000;"><div class="cell" style="left:0;top:0;width:58.00px;height:16.50px"><span class="t b" style="left:3.00px;top:2.82px;font-size:9.9px;color:#ffffff;transform:scaleX(0.784)">Thu 07-11-19 8:00 AM</span></div></div>
<div class="cell" style="left:398.50px;top:0.00px;width:59.00px;height:16.50px;background:#ff0000;"><div class="cell" style="left:0;top:0;width:57.70px;height:16.50px"><span class="t b" style="left:3.20px;top:2.82px;font-size:9.9px;color:#ffffff;transform:scaleX(0.784)">Thu 07-11-19 5:00 PM</span></div></div>
<div class="cell" style="left:457.50px;top:0.00px;width:52.00px;height:16.50px;"><div class="cell" style="left:0;top:0;width:51.70px;height:16.50px"><span class="t p" style="left:3.70px;top:5.48px;font-size:10.3px;color:#1e1e1e;transform:scaleX(0.840)">25</span></div></div>
</div>
<div class="row" style="top:457px;transform:translateY(0.75px) scale(0.9999)">
<div class="cell" style="left:0.00px;top:0.00px;width:29.50px;height:16.50px;"><div class="cell" style="left:0;top:0;width:27.90px;height:16.50px"><span class="t" style="left:0px;top:5.37px;width:34.6px;text-align:center;font-size:10.2px;color:#262626;-webkit-text-stroke:0.4px #262626;transform:scaleX(0.80)">27</span></div></div>
<div class="cell" style="left:29.50px;top:0.00px;width:266.00px;height:16.50px;background:#a9d18e;"><div class="cell" style="left:0;top:0;width:264.40px;height:16.50px"><span class="t" style="left:12.80px;top:2.82px;font-size:9.9px;color:#0c0c0c;transform:scaleX(0.752)">Close Release</span></div></div>
<div class="cell" style="left:295.50px;top:0.00px;width:44.00px;height:16.50px;background:#a9d18e;"><div class="cell" style="left:0;top:0;width:42.40px;height:16.50px"><span class="t" style="left:2.60px;top:2.82px;font-size:9.9px;color:#0c0c0c;transform:scaleX(0.790)">5 days</span></div></div>
<div class="cell" style="left:339.50px;top:0.00px;width:59.00px;height:16.50px;background:#a9d18e;"><div class="cell" style="left:0;top:0;width:58.00px;height:16.50px"><span class="t" style="left:3.00px;top:2.82px;font-size:9.9px;color:#0c0c0c;transform:scaleX(0.771)">Thu 07-11-19 8:00 AM</span></div></div>
<div class="cell" style="left:398.50px;top:0.00px;width:59.00px;height:16.50px;background:#a9d18e;"><div class="cell" style="left:0;top:0;width:57.70px;height:16.50px"><span class="t" style="left:3.20px;top:2.82px;font-size:9.9px;color:#0c0c0c;transform:scaleX(0.771)">Wed 13-11-19 5:00 PM</span></div></div>
<div class="cell" style="left:457.50px;top:0.00px;width:52.00px;height:16.50px;"><div class="cell" style="left:0;top:0;width:51.70px;height:16.50px"><span class="t p" style="left:3.70px;top:5.48px;font-size:10.3px;color:#1e1e1e;transform:scaleX(0.840)">26FS-1 days</span></div></div>
</div>
<div class="grid">
<div class="hl" style="left:29.5px;top:45.00px;width:428px;background:rgba(214,212,210,0.55)"></div>
<div class="hl" style="left:457.5px;top:45.00px;width:52px;background:#e0e0e0"></div>
<div class="hl" style="left:29.5px;top:61.50px;width:428px;background:rgba(214,212,210,0.55)"></div>
<div class="hl" style="left:457.5px;top:61.50px;width:52px;background:#e0e0e0"></div>
<div class="hl" style="left:29.5px;top:78.00px;width:428px;background:rgba(214,212,210,0.55)"></div>
<div class="hl" style="left:457.5px;top:78.00px;width:52px;background:#e0e0e0"></div>
<div class="hl" style="left:29.5px;top:94.50px;width:428px;background:rgba(214,212,210,0.55)"></div>
<div class="hl" style="left:457.5px;top:94.50px;width:52px;background:#e0e0e0"></div>
<div class="hl" style="left:29.5px;top:111.00px;width:428px;background:rgba(214,212,210,0.55)"></div>
<div class="hl" style="left:457.5px;top:111.00px;width:52px;background:#e0e0e0"></div>
<div class="hl" style="left:29.5px;top:127.50px;width:428px;background:rgba(214,212,210,0.55)"></div>
<div class="hl" style="left:457.5px;top:127.50px;width:52px;background:#e0e0e0"></div>
<div class="hl" style="left:29.5px;top:144.00px;width:428px;background:rgba(214,212,210,0.55)"></div>
<div class="hl" style="left:457.5px;top:144.00px;width:52px;background:#e0e0e0"></div>
<div class="hl" style="left:29.5px;top:160.50px;width:428px;background:rgba(214,212,210,0.55)"></div>
<div class="hl" style="left:457.5px;top:160.50px;width:52px;background:#e0e0e0"></div>
<div class="hl" style="left:29.5px;top:177.00px;width:428px;background:rgba(214,212,210,0.55)"></div>
<div class="hl" style="left:457.5px;top:177.00px;width:52px;background:#e0e0e0"></div>
<div class="hl" style="left:29.5px;top:193.50px;width:428px;background:rgba(214,212,210,0.55)"></div>
<div class="hl" style="left:457.5px;top:193.50px;width:52px;background:#e0e0e0"></div>
<div class="hl" style="left:29.5px;top:210.00px;width:428px;background:rgba(214,212,210,0.55)"></div>
<div class="hl" style="left:457.5px;top:210.00px;width:52px;background:#e0e0e0"></div>
<div class="hl" style="left:29.5px;top:226.50px;width:428px;background:rgba(214,212,210,0.55)"></div>
<div class="hl" style="left:457.5px;top:226.50px;width:52px;background:#e0e0e0"></div>
<div class="hl" style="left:29.5px;top:243.00px;width:428px;background:rgba(214,212,210,0.55)"></div>
<div class="hl" style="left:457.5px;top:243.00px;width:52px;background:#e0e0e0"></div>
<div class="hl" style="left:29.5px;top:259.50px;width:428px;background:rgba(214,212,210,0.55)"></div>
<div class="hl" style="left:457.5px;top:259.50px;width:52px;background:#e0e0e0"></div>
<div class="hl" style="left:29.5px;top:276.00px;width:428px;background:rgba(214,212,210,0.55)"></div>
<div class="hl" style="left:457.5px;top:276.00px;width:52px;background:#e0e0e0"></div>
<div class="hl" style="left:29.5px;top:292.50px;width:428px;background:rgba(214,212,210,0.55)"></div>
<div class="hl" style="left:457.5px;top:292.50px;width:52px;background:rgba(214,212,210,0.55)"></div>
<div class="hl" style="left:29.5px;top:309.00px;width:428px;background:rgba(214,212,210,0.55)"></div>
<div class="hl" style="left:457.5px;top:309.00px;width:52px;background:rgba(214,212,210,0.55)"></div>
<div class="hl" style="left:29.5px;top:325.50px;width:428px;background:rgba(214,212,210,0.55)"></div>
<div class="hl" style="left:457.5px;top:325.50px;width:52px;background:rgba(214,212,210,0.55)"></div>
<div class="hl" style="left:29.5px;top:342.00px;width:428px;background:rgba(214,212,210,0.55)"></div>
<div class="hl" style="left:457.5px;top:342.00px;width:52px;background:rgba(214,212,210,0.55)"></div>
<div class="hl" style="left:29.5px;top:358.50px;width:428px;background:rgba(214,212,210,0.55)"></div>
<div class="hl" style="left:457.5px;top:358.50px;width:52px;background:rgba(214,212,210,0.55)"></div>
<div class="hl" style="left:29.5px;top:375.00px;width:428px;background:rgba(214,212,210,0.55)"></div>
<div class="hl" style="left:457.5px;top:375.00px;width:52px;background:rgba(214,212,210,0.55)"></div>
<div class="hl" style="left:29.5px;top:391.50px;width:428px;background:rgba(214,212,210,0.55)"></div>
<div class="hl" style="left:457.5px;top:391.50px;width:52px;background:rgba(214,212,210,0.55)"></div>
<div class="hl" style="left:29.5px;top:408.00px;width:428px;background:rgba(214,212,210,0.55)"></div>
<div class="hl" style="left:457.5px;top:408.00px;width:52px;background:rgba(214,212,210,0.55)"></div>
<div class="hl" style="left:29.5px;top:424.50px;width:428px;background:rgba(214,212,210,0.55)"></div>
<div class="hl" style="left:457.5px;top:424.50px;width:52px;background:#e0e0e0"></div>
<div class="hl" style="left:29.5px;top:441.00px;width:428px;background:rgba(214,212,210,0.55)"></div>
<div class="hl" style="left:457.5px;top:441.00px;width:52px;background:#e0e0e0"></div>
<div class="hl" style="left:29.5px;top:457.50px;width:428px;background:rgba(214,212,210,0.55)"></div>
<div class="hl" style="left:457.5px;top:457.50px;width:52px;background:#e0e0e0"></div>
<div class="hl" style="left:457.5px;top:474.00px;width:52px;background:#e0e0e0"></div>
<div class="vl" style="left:295.00px;top:29px;height:445.50px;background:rgba(214,212,210,0.55)"></div>
<div class="vl" style="left:339.00px;top:29px;height:445.50px;background:rgba(214,212,210,0.55)"></div>
<div class="vl" style="left:398.00px;top:29px;height:445.50px;background:rgba(214,212,210,0.55)"></div>
<div class="vl" style="left:457px;top:29px;height:445.50px;background:rgba(214,212,210,0.55)"></div>
<div class="vl" style="left:29.00px;top:0;height:29px;background:#b9b9b9"></div>
<div class="vl" style="left:295.00px;top:0;height:29px;background:#b9b9b9"></div>
<div class="vl" style="left:339.00px;top:0;height:29px;background:#b9b9b9"></div>
<div class="vl" style="left:398.00px;top:0;height:29px;background:#b9b9b9"></div>
<div class="vl" style="left:457.00px;top:0;height:29px;background:#b9b9b9"></div>
<div class="vl" style="left:29px;top:29px;height:448.00px;background:#babec6"></div>
<div class="vl" style="left:509px;top:0;height:476px;background:#e2e2e2"></div>
<div class="hl" style="left:0;top:28.4px;width:510px;background:#b4b4b4;height:1.3px"></div>
</div>
<svg width="900" height="491" viewBox="0 0 900 491" font-family="Liberation Sans, sans-serif">
<g stroke="#b2b2b2" stroke-width="1.15">
<line x1="579.00" y1="0" x2="579.00" y2="14"/>
<line x1="643.00" y1="0" x2="643.00" y2="14"/>
<line x1="707.00" y1="0" x2="707.00" y2="14"/>
<line x1="771.00" y1="0" x2="771.00" y2="14"/>
<line x1="835.00" y1="0" x2="835.00" y2="14"/>
<line x1="533.29" y1="14.5" x2="533.29" y2="28.5"/>
<line x1="551.57" y1="14.5" x2="551.57" y2="28.5"/>
<line x1="569.86" y1="14.5" x2="569.86" y2="28.5"/>
<line x1="588.14" y1="14.5" x2="588.14" y2="28.5"/>
<line x1="606.43" y1="14.5" x2="606.43" y2="28.5"/>
<line x1="624.71" y1="14.5" x2="624.71" y2="28.5"/>
<line x1="643.00" y1="14.5" x2="643.00" y2="28.5"/>
<line x1="661.29" y1="14.5" x2="661.29" y2="28.5"/>
<line x1="679.57" y1="14.5" x2="679.57" y2="28.5"/>
<line x1="697.86" y1="14.5" x2="697.86" y2="28.5"/>
<line x1="716.14" y1="14.5" x2="716.14" y2="28.5"/>
<line x1="734.43" y1="14.5" x2="734.43" y2="28.5"/>
<line x1="752.71" y1="14.5" x2="752.71" y2="28.5"/>
<line x1="771.00" y1="14.5" x2="771.00" y2="28.5"/>
<line x1="789.29" y1="14.5" x2="789.29" y2="28.5"/>
<line x1="807.57" y1="14.5" x2="807.57" y2="28.5"/>
<line x1="825.86" y1="14.5" x2="825.86" y2="28.5"/>
<line x1="844.14" y1="14.5" x2="844.14" y2="28.5"/>
<line x1="862.43" y1="14.5" x2="862.43" y2="28.5"/>
<line x1="880.71" y1="14.5" x2="880.71" y2="28.5"/>
</g>
<line x1="515" y1="28.8" x2="888" y2="28.8" stroke="#a8a8a8" stroke-width="1.2"/>
<line x1="0" y1="45.60" x2="29.2" y2="45.60" stroke="#c4c4c4" stroke-width="1.5"/>
<line x1="0" y1="62.10" x2="29.2" y2="62.10" stroke="#c4c4c4" stroke-width="1.5"/>
<line x1="0" y1="78.60" x2="29.2" y2="78.60" stroke="#c4c4c4" stroke-width="1.5"/>
<line x1="0" y1="95.10" x2="29.2" y2="95.10" stroke="#c4c4c4" stroke-width="1.5"/>
<line x1="0" y1="111.60" x2="29.2" y2="111.60" stroke="#c4c4c4" stroke-width="1.5"/>
<line x1="0" y1="128.10" x2="29.2" y2="128.10" stroke="#c4c4c4" stroke-width="1.5"/>
<line x1="0" y1="144.60" x2="29.2" y2="144.60" stroke="#c4c4c4" stroke-width="1.5"/>
<line x1="0" y1="161.10" x2="29.2" y2="161.10" stroke="#c4c4c4" stroke-width="1.5"/>
<line x1="0" y1="177.60" x2="29.2" y2="177.60" stroke="#c4c4c4" stroke-width="1.5"/>
<line x1="0" y1="194.10" x2="29.2" y2="194.10" stroke="#c4c4c4" stroke-width="1.5"/>
<line x1="0" y1="210.60" x2="29.2" y2="210.60" stroke="#c4c4c4" stroke-width="1.5"/>
<line x1="0" y1="227.10" x2="29.2" y2="227.10" stroke="#c4c4c4" stroke-width="1.5"/>
<line x1="0" y1="243.60" x2="29.2" y2="243.60" stroke="#c4c4c4" stroke-width="1.5"/>
<line x1="0" y1="260.10" x2="29.2" y2="260.10" stroke="#c4c4c4" stroke-width="1.5"/>
<line x1="0" y1="276.60" x2="29.2" y2="276.60" stroke="#c4c4c4" stroke-width="1.5"/>
<line x1="0" y1="293.10" x2="29.2" y2="293.10" stroke="#c4c4c4" stroke-width="1.5"/>
<line x1="0" y1="309.60" x2="29.2" y2="309.60" stroke="#c4c4c4" stroke-width="1.5"/>
<line x1="0" y1="326.10" x2="29.2" y2="326.10" stroke="#c4c4c4" stroke-width="1.5"/>
<line x1="0" y1="342.60" x2="29.2" y2="342.60" stroke="#c4c4c4" stroke-width="1.5"/>
<line x1="0" y1="359.10" x2="29.2" y2="359.10" stroke="#c4c4c4" stroke-width="1.5"/>
<line x1="0" y1="375.60" x2="29.2" y2="375.60" stroke="#c4c4c4" stroke-width="1.5"/>
<line x1="0" y1="392.10" x2="29.2" y2="392.10" stroke="#c4c4c4" stroke-width="1.5"/>
<line x1="0" y1="408.60" x2="29.2" y2="408.60" stroke="#c4c4c4" stroke-width="1.5"/>
<line x1="0" y1="425.10" x2="29.2" y2="425.10" stroke="#c4c4c4" stroke-width="1.5"/>
<line x1="0" y1="441.60" x2="29.2" y2="441.60" stroke="#c4c4c4" stroke-width="1.5"/>
<line x1="0" y1="458.10" x2="29.2" y2="458.10" stroke="#c4c4c4" stroke-width="1.5"/>
<line x1="0" y1="474.60" x2="29.2" y2="474.60" stroke="#c4c4c4" stroke-width="1.5"/>
<line x1="514.6" y1="0" x2="514.6" y2="491" stroke="#7a7a7a" stroke-width="1.1"/>
<line x1="888.4" y1="0" x2="888.4" y2="491" stroke="#e6e6e6" stroke-width="1"/>
<text x="0" y="0" transform="translate(517.80,9.4) scale(0.90,1)" font-size="8.2" fill="#333" stroke="#333" stroke-width="0.3">04 Aug '19</text>
<text x="0" y="0" transform="translate(581.80,9.4) scale(0.90,1)" font-size="8.2" fill="#333" stroke="#333" stroke-width="0.3">18 Aug '19</text>
<text x="0" y="0" transform="translate(645.80,9.4) scale(0.90,1)" font-size="8.2" fill="#333" stroke="#333" stroke-width="0.3">01 Sep '19</text>
<text x="0" y="0" transform="translate(709.80,9.4) scale(0.90,1)" font-size="8.2" fill="#333" stroke="#333" stroke-width="0.3">15 Sep '19</text>
<text x="0" y="0" transform="translate(773.80,9.4) scale(0.90,1)" font-size="8.2" fill="#333" stroke="#333" stroke-width="0.3">29 Sep '19</text>
<text x="0" y="0" transform="translate(837.80,9.4) scale(0.90,1)" font-size="8.2" fill="#333" stroke="#333" stroke-width="0.3">13 Oct '19</text>
<text x="0" y="0" transform="translate(524.14,24.3) scale(0.82,1)" font-size="7.9" fill="#333" stroke="#333" stroke-width="0.3" text-anchor="middle">S</text>
<text x="0" y="0" transform="translate(542.43,24.3) scale(0.82,1)" font-size="7.9" fill="#333" stroke="#333" stroke-width="0.3" text-anchor="middle">T</text>
<text x="0" y="0" transform="translate(560.71,24.3) scale(0.82,1)" font-size="7.9" fill="#333" stroke="#333" stroke-width="0.3" text-anchor="middle">M</text>
<text x="0" y="0" transform="translate(579.00,24.3) scale(0.82,1)" font-size="7.9" fill="#333" stroke="#333" stroke-width="0.3" text-anchor="middle">F</text>
<text x="0" y="0" transform="translate(597.29,24.3) scale(0.82,1)" font-size="7.9" fill="#333" stroke="#333" stroke-width="0.3" text-anchor="middle">T</text>
<text x="0" y="0" transform="translate(615.57,24.3) scale(0.82,1)" font-size="7.9" fill="#333" stroke="#333" stroke-width="0.3" text-anchor="middle">S</text>
<text x="0" y="0" transform="translate(633.86,24.3) scale(0.82,1)" font-size="7.9" fill="#333" stroke="#333" stroke-width="0.3" text-anchor="middle">W</text>
<text x="0" y="0" transform="translate(652.14,24.3) scale(0.82,1)" font-size="7.9" fill="#333" stroke="#333" stroke-width="0.3" text-anchor="middle">S</text>
<text x="0" y="0" transform="translate(670.43,24.3) scale(0.82,1)" font-size="7.9" fill="#333" stroke="#333" stroke-width="0.3" text-anchor="middle">T</text>
<text x="0" y="0" transform="translate(688.71,24.3) scale(0.82,1)" font-size="7.9" fill="#333" stroke="#333" stroke-width="0.3" text-anchor="middle">M</text>
<text x="0" y="0" transform="translate(707.00,24.3) scale(0.82,1)" font-size="7.9" fill="#333" stroke="#333" stroke-width="0.3" text-anchor="middle">F</text>
<text x="0" y="0" transform="translate(725.29,24.3) scale(0.82,1)" font-size="7.9" fill="#333" stroke="#333" stroke-width="0.3" text-anchor="middle">T</text>
<text x="0" y="0" transform="translate(743.57,24.3) scale(0.82,1)" font-size="7.9" fill="#333" stroke="#333" stroke-width="0.3" text-anchor="middle">S</text>
<text x="0" y="0" transform="translate(761.86,24.3) scale(0.82,1)" font-size="7.9" fill="#333" stroke="#333" stroke-width="0.3" text-anchor="middle">W</text>
<text x="0" y="0" transform="translate(780.14,24.3) scale(0.82,1)" font-size="7.9" fill="#333" stroke="#333" stroke-width="0.3" text-anchor="middle">S</text>
<text x="0" y="0" transform="translate(798.43,24.3) scale(0.82,1)" font-size="7.9" fill="#333" stroke="#333" stroke-width="0.3" text-anchor="middle">T</text>
<text x="0" y="0" transform="translate(816.71,24.3) scale(0.82,1)" font-size="7.9" fill="#333" stroke="#333" stroke-width="0.3" text-anchor="middle">M</text>
<text x="0" y="0" transform="translate(835.00,24.3) scale(0.82,1)" font-size="7.9" fill="#333" stroke="#333" stroke-width="0.3" text-anchor="middle">F</text>
<text x="0" y="0" transform="translate(853.29,24.3) scale(0.82,1)" font-size="7.9" fill="#333" stroke="#333" stroke-width="0.3" text-anchor="middle">T</text>
<text x="0" y="0" transform="translate(871.57,24.3) scale(0.82,1)" font-size="7.9" fill="#333" stroke="#333" stroke-width="0.3" text-anchor="middle">S</text>
<text x="0" y="0" transform="translate(889.86,24.3) scale(0.82,1)" font-size="7.9" fill="#333" stroke="#333" stroke-width="0.3" text-anchor="middle">W</text>
<defs><clipPath id="gc"><rect x="515" y="29" width="373" height="447"/></clipPath></defs>
<g clip-path="url(#gc)">
<path d="M528.71 54.35 H532.31 V59.60" fill="none" stroke="#8ab8ec" stroke-width="0.9" stroke-opacity="0.6"/>
<path d="M528.86 59.40 H535.76 L532.31 64.10 Z" fill="#85b4ea"/>
<path d="M537.86 70.85 H541.46 V76.10" fill="none" stroke="#8ab8ec" stroke-width="0.9" stroke-opacity="0.6"/>
<path d="M538.01 75.90 H544.91 L541.46 80.60 Z" fill="#85b4ea"/>
<path d="M556.14 87.35 H559.74 V92.60" fill="none" stroke="#8ab8ec" stroke-width="0.9" stroke-opacity="0.6"/>
<path d="M556.29 92.40 H563.19 L559.74 97.10 Z" fill="#85b4ea"/>
<path d="M565.29 103.85 H568.89 V109.10" fill="none" stroke="#8ab8ec" stroke-width="0.9" stroke-opacity="0.6"/>
<path d="M565.44 108.90 H572.34 L568.89 113.60 Z" fill="#85b4ea"/>
<path d="M569.86 120.35 H573.46 V125.60" fill="none" stroke="#8ab8ec" stroke-width="0.9" stroke-opacity="0.6"/>
<path d="M570.01 125.40 H576.91 L573.46 130.10 Z" fill="#85b4ea"/>
<path d="M601.86 153.35 H605.46 V158.60" fill="none" stroke="#8ab8ec" stroke-width="0.9" stroke-opacity="0.6"/>
<path d="M602.01 158.40 H608.91 L605.46 163.10 Z" fill="#85b4ea"/>
<path d="M633.86 169.85 H637.46 V175.10" fill="none" stroke="#8ab8ec" stroke-width="0.9" stroke-opacity="0.6"/>
<path d="M634.01 174.90 H640.91 L637.46 179.60 Z" fill="#85b4ea"/>
<path d="M665.86 186.35 H669.46 V191.60" fill="none" stroke="#8ab8ec" stroke-width="0.9" stroke-opacity="0.6"/>
<path d="M666.01 191.40 H672.91 L669.46 196.10 Z" fill="#85b4ea"/>
<path d="M697.86 202.85 H701.46 V208.10" fill="none" stroke="#8ab8ec" stroke-width="0.9" stroke-opacity="0.6"/>
<path d="M698.01 207.90 H704.91 L701.46 212.60 Z" fill="#85b4ea"/>
<path d="M729.86 219.35 H733.46 V224.60" fill="none" stroke="#8ab8ec" stroke-width="0.9" stroke-opacity="0.6"/>
<path d="M730.01 224.40 H736.91 L733.46 229.10 Z" fill="#85b4ea"/>
<path d="M761.86 235.85 H765.46 V241.10" fill="none" stroke="#8ab8ec" stroke-width="0.9" stroke-opacity="0.6"/>
<path d="M762.01 240.90 H768.91 L765.46 245.60 Z" fill="#85b4ea"/>
<path d="M784.71 252.35 H788.31 V257.60" fill="none" stroke="#8ab8ec" stroke-width="0.9" stroke-opacity="0.6"/>
<path d="M784.86 257.40 H791.76 L788.31 262.10 Z" fill="#85b4ea"/>
<path d="M784.71 268.85 H788.31 V274.10" fill="none" stroke="#8ab8ec" stroke-width="0.9" stroke-opacity="0.6"/>
<path d="M784.86 273.90 H791.76 L788.31 278.60 Z" fill="#85b4ea"/>
<path d="M788.31 278.50 V290.60" fill="none" stroke="#8ab8ec" stroke-width="1"/>
<path d="M784.86 290.40 H791.76 L788.31 295.10 Z" fill="#85b4ea"/>
<path d="M798.43 301.85 H811.17 V307.10" fill="none" stroke="#8ab8ec" stroke-width="0.9" stroke-opacity="0.6"/>
<path d="M807.72 306.90 H814.62 L811.17 311.60 Z" fill="#85b4ea"/>
<path d="M821.29 318.35 H824.89 V323.60" fill="none" stroke="#8ab8ec" stroke-width="0.9" stroke-opacity="0.6"/>
<path d="M821.44 323.40 H828.34 L824.89 328.10 Z" fill="#85b4ea"/>
<path d="M844.14 334.85 H847.74 V340.10" fill="none" stroke="#8ab8ec" stroke-width="0.9" stroke-opacity="0.6"/>
<path d="M844.29 339.90 H851.19 L847.74 344.60 Z" fill="#85b4ea"/>
<path d="M857.86 351.35 H861.46 V356.60" fill="none" stroke="#8ab8ec" stroke-width="0.9" stroke-opacity="0.6"/>
<path d="M858.01 356.40 H864.91 L861.46 361.10 Z" fill="#85b4ea"/>
<path d="M880.71 367.85 H884.31 V373.10" fill="none" stroke="#8ab8ec" stroke-width="0.9" stroke-opacity="0.6"/>
<path d="M880.86 372.90 H887.76 L884.31 377.60 Z" fill="#85b4ea"/>
<path d="M519.27 33.40 H570.16" stroke="#555555" stroke-width="1.2" fill="none"/>
<path d="M519.57 33.00 V42.60 M569.86 33.00 V42.60" stroke="#2a2a2a" stroke-width="1.75" fill="none"/>
<rect x="519.17" y="49.60" width="9.74" height="9.6" fill="#85b4ea"/>
<rect x="528.31" y="66.10" width="9.74" height="9.6" fill="#85b4ea"/>
<rect x="537.46" y="82.60" width="18.89" height="9.6" fill="#85b4ea"/>
<rect x="555.74" y="99.10" width="9.74" height="9.6" fill="#85b4ea"/>
<rect x="564.89" y="115.60" width="5.17" height="9.6" fill="#85b4ea"/>
<path d="M569.56 132.40 H785.01" stroke="#555555" stroke-width="1.2" fill="none"/>
<path d="M569.86 132.00 V141.60 M784.71 132.00 V141.60" stroke="#2a2a2a" stroke-width="1.75" fill="none"/>
<rect x="569.46" y="148.60" width="32.60" height="9.6" fill="#85b4ea"/>
<rect x="601.46" y="165.10" width="32.60" height="9.6" fill="#85b4ea"/>
<rect x="633.46" y="181.60" width="32.60" height="9.6" fill="#85b4ea"/>
<rect x="665.46" y="198.10" width="32.60" height="9.6" fill="#85b4ea"/>
<rect x="697.46" y="214.60" width="32.60" height="9.6" fill="#85b4ea"/>
<rect x="729.46" y="231.10" width="32.60" height="9.6" fill="#85b4ea"/>
<rect x="761.46" y="247.60" width="23.46" height="9.6" fill="#85b4ea"/>
<rect x="779.74" y="264.10" width="5.17" height="9.6" fill="#85b4ea"/>
<path d="M784.41 280.90 H922.16" stroke="#555555" stroke-width="1.2" fill="none"/>
<path d="M784.71 280.50 V290.10 M921.86 280.50 V290.10" stroke="#2a2a2a" stroke-width="1.75" fill="none"/>
<rect x="784.31" y="297.10" width="14.31" height="9.6" fill="#85b4ea"/>
<rect x="807.17" y="313.60" width="14.31" height="9.6" fill="#85b4ea"/>
<rect x="820.89" y="330.10" width="23.46" height="9.6" fill="#85b4ea"/>
<rect x="843.74" y="346.60" width="14.31" height="9.6" fill="#85b4ea"/>
<rect x="857.46" y="363.10" width="23.46" height="9.6" fill="#85b4ea"/>
<rect x="880.31" y="379.60" width="14.31" height="9.6" fill="#85b4ea"/>
</g>
<rect x="29.85" y="29.8" width="265.3" height="15.2" fill="none" stroke="#26762a" stroke-width="1.7"/>
<rect x="888.9" y="0" width="11.1" height="491" fill="#ffffff"/>
<rect x="891.1" y="15.1" width="8.1" height="118.5" fill="#7f7f7f"/>
<path d="M891.2 8 L894.7 3.5 L898.2 8 Z" fill="#7c7c7c"/>
<path d="M892.2 469.2 L899.0 469.2 L895.6 473.7 Z" fill="#7c7c7c"/>
<rect x="13.6" y="479.1" width="343.5" height="10" fill="#7f7f7f"/>
<path d="M9.4 480.6 L9.4 488.4 L5.0 484.5 Z" fill="#7c7c7c"/>
<path d="M500.8 480.6 L500.8 488.4 L505.0 484.5 Z" fill="#7c7c7c"/>
<rect x="528.5" y="479.1" width="27.5" height="10" fill="#7f7f7f"/>
<path d="M523.8 480.6 L523.8 488.4 L519.6 484.5 Z" fill="#7c7c7c"/>
<path d="M879.8 480.6 L879.8 488.4 L883.6 484.5 Z" fill="#7c7c7c"/>
</svg>
</div>
</body>
</html>
